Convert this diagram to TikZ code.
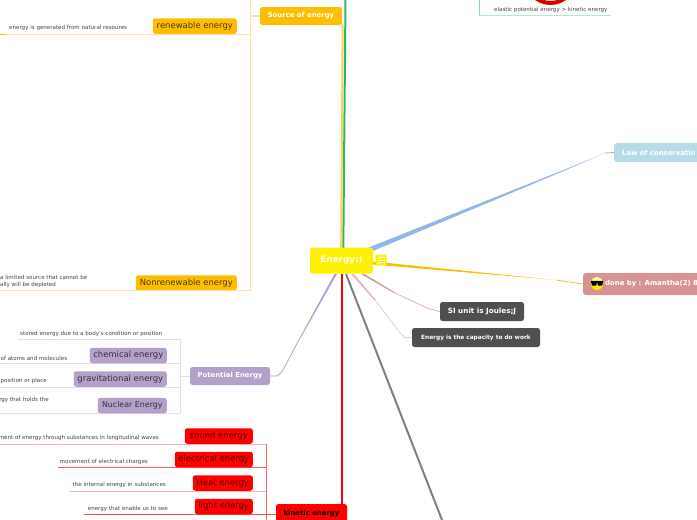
\documentclass[tikz,border=0pt]{standalone}
\usepackage{fontspec}
\setmainfont{DejaVu Sans}
\usepackage{xcolor}
\definecolor{srcyellow}{HTML}{FFBD00}
\definecolor{srclight}{HTML}{FFE39A}
\definecolor{potpurple}{HTML}{B3A1C9}
\definecolor{potlight}{HTML}{E3DDEC}
\definecolor{kinred}{HTML}{FF0000}
\definecolor{lawblue}{HTML}{B7DCE8}
\definecolor{lawline}{HTML}{93B8E6}
\definecolor{donepink}{HTML}{D99292}
\definecolor{darkbox}{HTML}{4F4F4F}
\definecolor{sigreen}{HTML}{7FDDAA}
\definecolor{topgreen}{HTML}{2DB56A}
\definecolor{notegray}{HTML}{444444}
\tikzset{
  topicbox/.style={rounded corners=2.5pt, inner sep=0pt, font=\bfseries\fontsize{6.9}{8}\selectfont, text=white, minimum height=18pt},
  subbox/.style={rounded corners=2.5pt, inner sep=0pt, font=\fontsize{8.45}{10}\selectfont, minimum height=15.5pt, anchor=east},
  note/.style={font=\fontsize{5.55}{7}\selectfont, text=notegray, inner sep=0pt, align=left},
}
\begin{document}
\begin{tikzpicture}[x=1pt, y=-1pt]
  \useasboundingbox (0,0) rectangle (697,520);
  \clip (0,0) rectangle (697,520);

  % branches from the centre
  \coordinate (topend) at (345.5,0);
  \coordinate (bottomend) at (442,520);
  \coordinate (lawbend) at (605,153);
  \coordinate (donebend) at (556,280);
  \draw[line width=2pt, topgreen] (topend) -- (343.3,248);
  \draw[line width=2pt, srcyellow!70] (342.7,24) -- (341.2,248);
  \fill[lawline] (368.5,247.5) -- (370.5,252) -- (560,172.6) -- (lawbend) -- (559.6,171.6) -- cycle;
  \fill[srcyellow] (373,261.5) -- (373,264.5) -- (donebend) -- cycle;
  \draw[line width=2pt, gray] (346,274) -- (bottomend);
  \draw[line width=1.8pt, kinred] (342,274) -- (342,504);

  % centre node
  \node[topicbox, fill=yellow, minimum width=63pt, minimum height=26pt, font=\bfseries\fontsize{8.8}{10}\selectfont] (energy) at (341.5,260.5) {Energy:)};
  \node[fill=yellow, rounded corners=1pt, minimum width=11pt, minimum height=11pt, inner sep=0pt] (collapse) at (381,260) {};
  \draw[white, line width=.5pt] (377.5,257.5) -- (384.5,257.5) (377.5,260) -- (384.5,260) (377.5,262.5) -- (384.5,262.5);

  % source of energy
  \node[topicbox, fill=srcyellow, minimum width=82pt] (source) at (301,16) {Source of energy};
  \node[subbox, fill=srcyellow, text=black!70!srcyellow, minimum width=84pt] (renew) at (237,26) {renewable energy};
  \node[subbox, fill=srcyellow, text=black!70!srcyellow, minimum width=101pt] (nonrenew) at (237,283) {Nonrenewable energy};
  \draw[srclight, line width=1.5pt] (source.west) -- (250,16);
  \draw[srclight, line width=1pt] (250,0) -- (250,290.5) -- (0,290.5);
  \draw[srclight, line width=1pt] (250,34) -- (0,34);
  \draw[srcyellow, line width=1pt] (0,34) -- (6,34);
  \node[note, anchor=west] (renewnote) at (9,28) {energy is generated from natural resoures};
  \node[note, anchor=west] (nonrenewnote) at (0,281.5) {a limited source that cannot be\\ally will be depleted};

  % top right green branch
  \draw[sigreen, line width=1pt] (479,0) -- (479,15.5);
  \draw[sigreen!60, line width=1.5pt] (479,15.5) -- (611,15.5);
  \draw[red!85!black, line width=4pt] (550.5,-21.5) circle (24.5pt);
  \node[note, anchor=west] (elastic) at (494,10) {elastic potential energy > kinetic energy};

  % law and credits
  \node[topicbox, fill=lawblue, text width=90pt, align=left, anchor=west, inner xsep=8pt, minimum height=19pt] (law) at (614,152.5) {Law of conservatio};
  \draw[lawline, line width=.8pt] (lawbend) -- (law.west);
  \node[topicbox, fill=donepink, minimum height=22pt, anchor=west, inner xsep=22pt] (done) at (583,284) {done by : Amantha(2) 8};
  \fill[yellow!90!orange] (597,284) circle (6pt);
  \fill[white!70!yellow] (592,280) arc[start angle=150, end angle=30, radius=5.8pt] -- cycle;
  \fill[black] (591,281) rectangle (603,282.5);
  \fill[black, rounded corners=1pt] (591.5,281) rectangle (596.5,285.5);
  \fill[black, rounded corners=1pt] (597.5,281) rectangle (602.5,285.5);
  \draw[srcyellow, line width=.7pt] (donebend) -- (done.west);

  % dark boxes
  \node[topicbox, fill=darkbox, minimum width=84pt, minimum height=19pt, font=\bfseries\fontsize{7.2}{8}\selectfont] (siunit) at (482,311.5) {SI unit is Joules;J};
  \node[topicbox, fill=darkbox, minimum width=128pt, minimum height=19pt, font=\bfseries\fontsize{5.8}{7}\selectfont] (capacity) at (476,337.5) {Energy is the capacity to do work};
  \fill[donepink] (361,274) -- (364.5,274) -- (395,292.5) -- (394,293) -- cycle;
  \draw[donepink!70, line width=.8pt] (394.5,292.7) -- (428,308.5) -- (siunit.west);
  \fill[donepink!65] (351,274) -- (354,274) -- (376,300) -- (375,301) -- cycle;
  \draw[donepink!45, line width=.8pt] (375.5,300.5) -- (400,333) -- (405,337.5) -- (capacity.west);

  % potential energy
  \node[topicbox, fill=potpurple, minimum width=80pt] (potential) at (230,376) {Potential Energy};
  \fill[potpurple] (334.5,274) -- (337,274) -- (300.6,338) -- (299.8,337.6) -- cycle;
  \draw[potpurple, line width=.8pt] (potential.east) -- (277,376) -- (282,372) -- (300,337.8);
  \draw[potlight, line width=1pt] (potential.west) -- (180,376);
  \draw[potlight, line width=1pt] (18,339.5) -- (180,339.5) -- (180,413) -- (0,413);
  \draw[potlight, line width=1pt] (0,363) -- (180,363);
  \draw[potlight, line width=1pt] (0,387) -- (180,387);
  \node[note, anchor=west] (storednote) at (20,334) {stored energy due to a body's condition or position};
  \node[subbox, fill=potpurple, text=black!70!potpurple, minimum width=77pt] (chem) at (167,355.5) {chemical energy};
  \node[subbox, fill=potpurple, text=black!70!potpurple, minimum width=93pt] (grav) at (167,379) {gravitational energy};
  \node[subbox, fill=potpurple, text=black!70!potpurple, minimum width=69pt, font=\fontsize{7.9}{10}\selectfont] (nuclear) at (167,405.5) {Nuclear Energy};
  \node[note, anchor=west] (chemnote) at (0.5,358) {of atoms and molecules};
  \node[note, anchor=east] (gravnote) at (47,381) {position or place};
  \node[note, anchor=east] (nuclearnote) at (49,400) {rgy that holds the};

  % kinetic energy
  \node[topicbox, fill=kinred, text=black, minimum width=71pt, minimum height=20pt] (kinetic) at (311.5,514) {kinetic energy};
  \draw[kinred!30, line width=1pt] (0,444) -- (266,444);
  \draw[kinred!60, line width=1pt] (266,444) -- (266,520);
  \draw[kinred!65, line width=1pt] (58,467.5) -- (266,467.5);
  \draw[kinred!30, line width=1pt] (70,491) -- (266,491);
  \draw[kinred!70, line width=1pt] (84,514) -- (kinetic.west);
  \node[subbox, fill=kinred, text=black!70!kinred, minimum width=68pt] (sound) at (253,436) {sound energy};
  \node[subbox, fill=kinred, text=black!70!kinred, minimum width=78pt] (electrical) at (253,459.5) {electrical energy};
  \node[subbox, fill=kinred, text=black!70!kinred, minimum width=60pt] (heat) at (253,483) {Heat energy};
  \node[subbox, fill=kinred, text=black!70!kinred, minimum width=58pt] (light) at (253,506.5) {light energy};
  \node[note, anchor=east] (soundnote) at (159,438) {ment of energy through substances in longitudinal waves};
  \node[note, anchor=east] (electricalnote) at (148,461.5) {movement of electrical charges};
  \node[note, anchor=east] (heatnote) at (166,485) {the internal energy in substances};
  \node[note, anchor=east] (lightnote) at (168,508.5) {energy that enable us to see};
\end{tikzpicture}
\end{document}
